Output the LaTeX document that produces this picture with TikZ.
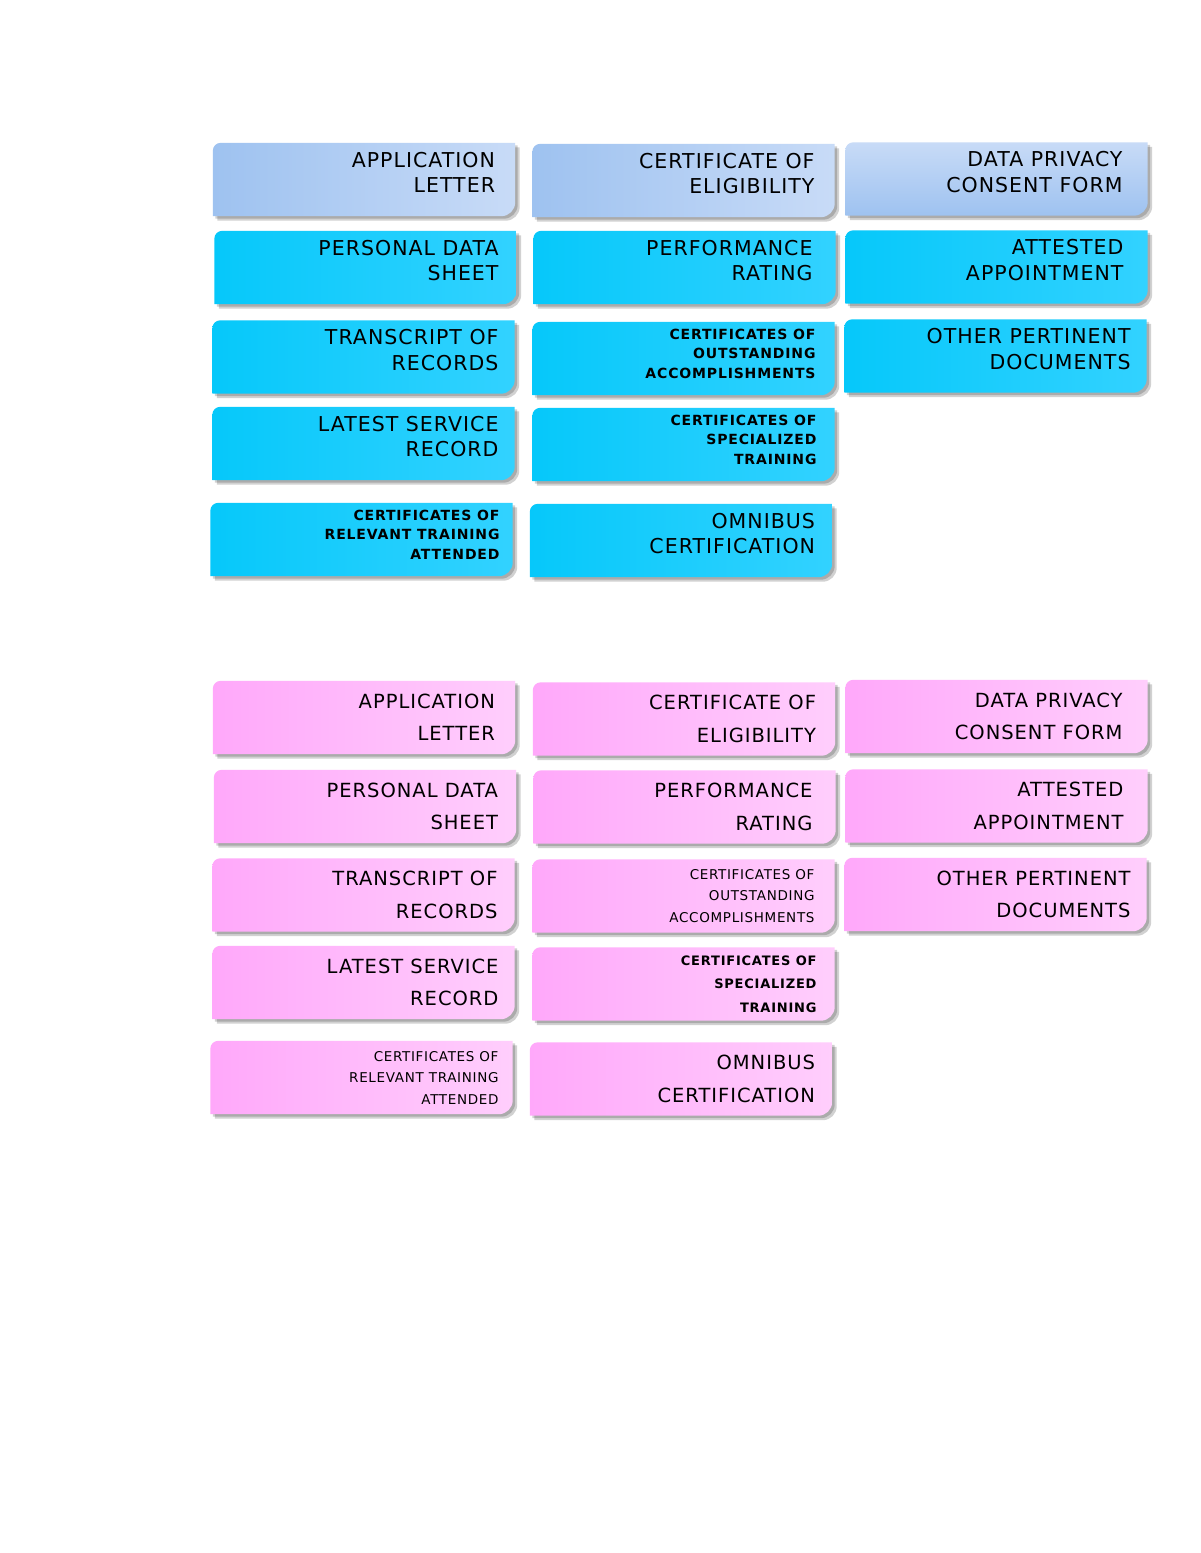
\documentclass[tikz,border=0pt]{standalone}
\usepackage{fontspec}
\setmainfont{DejaVu Sans}
\newfontfamily\lsfont[LetterSpace=5]{DejaVu Sans}
\newfontfamily\lsbold[LetterSpace=6]{DejaVu Sans Bold}
\usetikzlibrary{backgrounds}

\definecolor{paleL}{RGB}{158,194,240}
\definecolor{paleR}{RGB}{200,219,247}
\definecolor{cyanL}{RGB}{6,200,250}
\definecolor{cyanR}{RGB}{50,210,255}
\definecolor{pinkL}{RGB}{255,168,250}
\definecolor{pinkR}{RGB}{255,206,252}

\tikzset{
  docbox/.style={minimum width=302pt, minimum height=73pt, inner sep=0pt},
  doctext/.style={anchor=east, align=right, inner sep=0pt},
  boxshadow/.style={fill=black, opacity=.18},
  paleH/.style={left color=paleL, right color=paleR},
  paleV/.style={top color=paleR, bottom color=paleL},
  cyanH/.style={left color=cyanL, right color=cyanR},
  pinkH/.style={left color=pinkL, right color=pinkR},
  bigtop/.style={yshift=7pt, font=\lsfont\fontsize{20.5}{25.5}\selectfont},
  smalltop/.style={yshift=5pt, font=\lsbold\fontsize{14}{19.5}\selectfont},
  bigpink/.style={font=\lsfont\fontsize{19.5}{32.5}\selectfont},
  smallpink/.style={font=\lsfont\fontsize{13.5}{21.5}\selectfont},
  boldpink/.style={font=\lsbold\fontsize{13}{23.5}\selectfont},
}

% box outline: small round top left, larger round bottom right
\newcommand{\tabpath}[2]{([shift={#2},yshift=-8pt]#1.north west)
  arc[start angle=180, end angle=90, radius=8pt]
  -- ([shift={#2}]#1.north east) -- ([shift={#2},yshift=14pt]#1.south east)
  arc[start angle=0, end angle=-90, radius=14pt]
  -- ([shift={#2}]#1.south west) -- cycle}

% [text margin] name, centre, shading, text style, text
\newcommand{\docbox}[6][18pt]{%
  \node[docbox] (#2) at (#3) {};
  \begin{pgfonlayer}{background}
    \fill[boxshadow] \tabpath{#2}{(4.5pt,-4.5pt)};
    \fill[boxshadow] \tabpath{#2}{(2.5pt,-2.5pt)};
    \shade[#4] \tabpath{#2}{(0pt,0pt)};
  \end{pgfonlayer}
  \node[doctext,#5] (#2-t) at ([xshift=-#1]#2.east) {#6};
}

\begin{document}
\begin{tikzpicture}[x=1pt, y=-1pt]
  \begin{pgfonlayer}{background}
    \fill[white] (0,0) rectangle (1200,1553);
  \end{pgfonlayer}
  \useasboundingbox (0,0) rectangle (1200,1553);

  % blue set
  \docbox[20pt]{AppLetter}{364,179.5}{paleH}{bigtop}{APPLICATION\\LETTER}
  \docbox[20pt]{Eligibility}{683.5,180.5}{paleH}{bigtop}{CERTIFICATE OF\\ELIGIBILITY}
  \docbox[25pt]{Privacy}{996.5,179}{paleV}{bigtop}{DATA PRIVACY\\CONSENT FORM}
  \docbox{PersonalData}{365.5,267.5}{cyanH}{bigtop}{PERSONAL DATA\\SHEET}
  \docbox[23pt]{PerfRating}{684.5,267.5}{cyanH}{bigtop}{PERFORMANCE\\RATING}
  \docbox[24pt]{Attested}{996.5,267}{cyanH}{bigtop}{ATTESTED\\APPOINTMENT}
  \docbox[16pt]{Transcript}{363.5,357}{cyanH}{bigtop}{TRANSCRIPT OF\\RECORDS}
  \docbox[19pt]{Outstanding}{683.5,358.5}{cyanH}{smalltop}{CERTIFICATES OF\\OUTSTANDING\\ACCOMPLISHMENTS}
  \docbox[16pt]{OtherDocs}{995.5,356}{cyanH}{bigtop}{OTHER PERTINENT\\DOCUMENTS}
  \docbox[16pt]{ServiceRecord}{363.5,443.5}{cyanH}{bigtop}{LATEST SERVICE\\RECORD}
  \docbox{Specialized}{683.5,444.5}{cyanH}{smalltop}{CERTIFICATES OF\\SPECIALIZED\\TRAINING}
  \docbox[13pt]{Relevant}{361.5,539.5}{cyanH}{smalltop}{CERTIFICATES OF\\RELEVANT TRAINING\\ATTENDED}
  \docbox[17pt]{Omnibus}{681,540.5}{cyanH}{bigtop}{OMNIBUS\\CERTIFICATION}

  % pink set
  \docbox[20pt]{AppLetterP}{364,717.5}{pinkH}{bigpink}{APPLICATION\\LETTER}
  \docbox[19pt]{EligibilityP}{684,719}{pinkH}{bigpink}{CERTIFICATE OF\\ELIGIBILITY}
  \docbox[25pt]{PrivacyP}{996.5,716.5}{pinkH}{bigpink}{DATA PRIVACY\\CONSENT FORM}
  \docbox{PersonalDataP}{365,806.5}{pinkH}{bigpink}{PERSONAL DATA\\SHEET}
  \docbox[23pt]{PerfRatingP}{684.5,807}{pinkH}{bigpink}{PERFORMANCE\\RATING}
  \docbox[24pt]{AttestedP}{996.5,806}{pinkH}{bigpink}{ATTESTED\\APPOINTMENT}
  \docbox[17pt]{TranscriptP}{363.5,895}{pinkH}{bigpink}{TRANSCRIPT OF\\RECORDS}
  \docbox[20pt]{OutstandingP}{683.5,896}{pinkH}{smallpink}{CERTIFICATES OF\\OUTSTANDING\\ACCOMPLISHMENTS}
  \docbox[16pt]{OtherDocsP}{995.5,894.5}{pinkH}{bigpink}{OTHER PERTINENT\\DOCUMENTS}
  \docbox[16pt]{ServiceRecordP}{363.5,982.5}{pinkH}{bigpink}{LATEST SERVICE\\RECORD}
  \docbox{SpecializedP}{683.5,984}{pinkH}{boldpink}{CERTIFICATES OF\\SPECIALIZED\\TRAINING}
  \docbox[14pt]{RelevantP}{361.5,1077.5}{pinkH}{smallpink}{CERTIFICATES OF\\RELEVANT TRAINING\\ATTENDED}
  \docbox[17pt]{OmnibusP}{681,1079}{pinkH}{bigpink}{OMNIBUS\\CERTIFICATION}
\end{tikzpicture}
\end{document}
